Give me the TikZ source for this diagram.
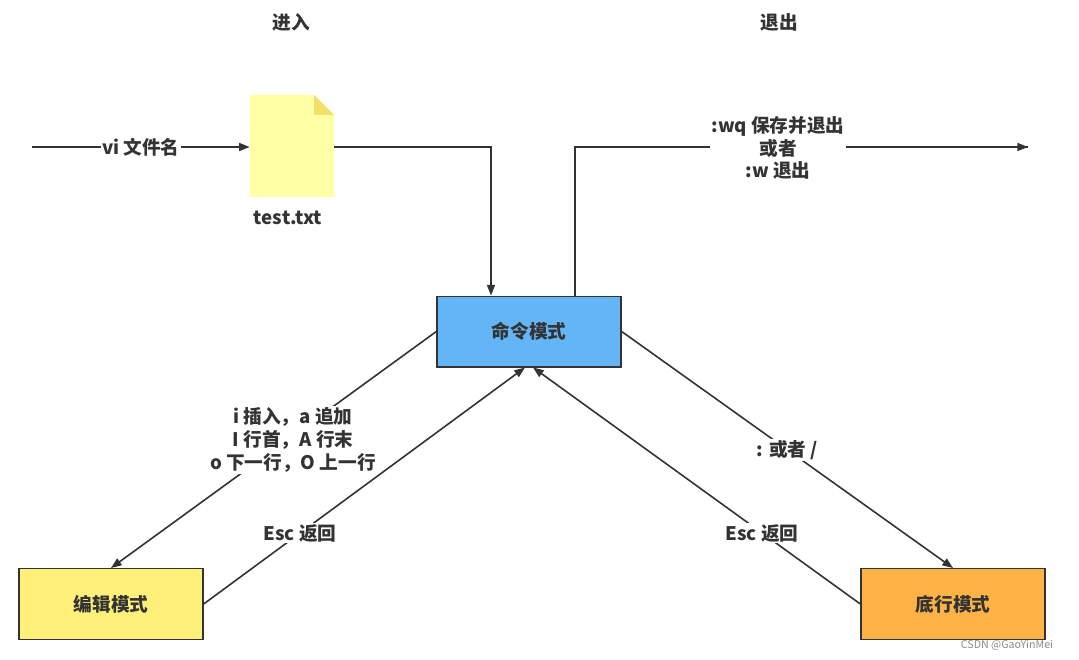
\documentclass[tikz,border=0pt]{standalone}
\usepackage{fontspec}
\setmainfont{Noto Sans CJK SC}
\usetikzlibrary{arrows.meta}
\definecolor{cmdc}{HTML}{63B5F6}
\definecolor{editc}{HTML}{FFF07A}
\definecolor{botc}{HTML}{FFB347}
\definecolor{filec}{HTML}{FFFFA6}
\definecolor{foldc}{HTML}{F2E06A}
\begin{document}
\begin{tikzpicture}[x=0.75pt,y=-0.75pt,
  lbl/.style={font=\bfseries\fontsize{14}{17}\selectfont,text=black!80,align=center},
  wl/.style={lbl,fill=white,inner sep=1pt},
  mode/.style={draw=black!80,line width=1pt,minimum width=138pt,minimum height=53pt,lbl},
  con/.style={draw=black!80,line width=1.2pt,-{Triangle[length=8pt,width=6pt]}},
  ln/.style={draw=black!80,line width=1.2pt}]
\useasboundingbox (0,0) rectangle (1079,660);
\node[lbl] (in) at (291,22) {进入};
\node[lbl] (out) at (779,22) {退出};
% file icon
\fill[filec] (250,95) -- (314,95) -- (334,115) -- (334,197) -- (250,197) -- cycle;
\fill[foldc] (314,95) -- (334,115) -- (314,115) -- cycle;
\node[inner sep=0,minimum width=63pt,minimum height=76pt] (file) at (292,146) {};
\node[lbl] (fname) at (288,218) {test.txt};
\coordinate (s) at (32,147);
\coordinate (e) at (1028,147);
\node[mode,fill=cmdc] (cmd) at (529,331.5) {命令模式};
\node[mode,fill=editc] (edit) at (111,604) {编辑模式};
\node[mode,fill=botc] (bot) at (953,604) {底行模式};
\draw[con] (s) -- node[wl]{vi 文件名} (file.west|-s);
\draw[con] (file.east|-s) -| (cmd.north-|491,0);
\draw[ln] (cmd.north-|575,0) |- (e);
\node[wl] (ql) at (778,148) {:wq 保存并退出\\或者\\:w 退出};
\draw[con] (e) ++(-1,0) -- (e);
\draw[con] (cmd.west) -- (edit.north);
\node[wl] (il) at (293,440) {i 插入，a 追加\\I 行首，A 行末\\o 下一行，O 上一行};
\draw[con] (edit.east) -- node[wl,pos=0.3]{Esc 返回} (cmd.south-|525,0);
\draw[con] (cmd.east) -- node[wl,pos=0.5]{: 或者 /} (bot.north);
\draw[con] (bot.west) -- node[wl,pos=0.3]{Esc 返回} (cmd.south-|533,0);
\node[font=\fontsize{8}{9}\selectfont,text=black!45] (wm) at (1007,645) {CSDN @GaoYinMei};
\end{tikzpicture}
\end{document}
